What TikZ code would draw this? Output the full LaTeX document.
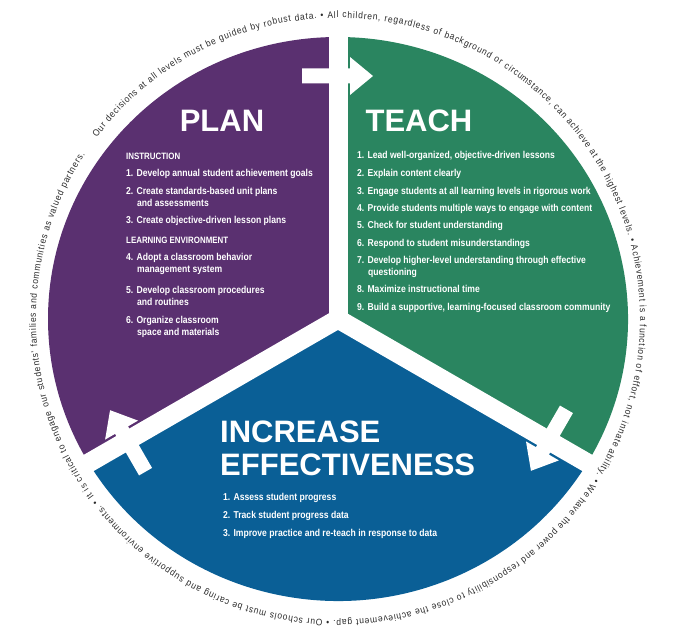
\documentclass[tikz,border=0pt]{standalone}
\usepackage{fontspec}
\setmainfont{Liberation Sans}
\newfontfamily\headf{Liberation Sans}
\newfontfamily\condf{Liberation Sans}[FakeStretch=0.86]
\newfontfamily\ringf{Liberation Sans}[FakeStretch=0.9]
\usetikzlibrary{decorations.text,calc}
\definecolor{planc}{HTML}{5A3070}
\definecolor{teachc}{HTML}{2A8560}
\definecolor{incc}{HTML}{0A5F96}
\definecolor{ringc}{HTML}{2B2B2B}
\tikzset{
  sect/.style={draw=none},
  divider/.style={white, line width=19pt},
  flowarrow/.style={fill=white, draw=none},
  headtxt/.style={text=white, inner sep=0pt, font=\headf\bfseries\fontsize{31}{31}\selectfont},
  li/.style={text=white, inner sep=0pt, anchor=base west, font=\condf\bfseries\fontsize{10}{12}\selectfont},
  subh/.style={text=white, inner sep=0pt, anchor=base west, font=\condf\bfseries\fontsize{9.2}{10}\selectfont},
}
\begin{document}
\begin{tikzpicture}[x=1pt,y=1pt]
\useasboundingbox (0,0) rectangle (675,643);
\coordinate (C) at (338,324);
% sectors
\fill[planc] (C) -- ($(C)+(90:290 and 282)$) arc[start angle=90, end angle=210, x radius=290, y radius=282] -- cycle;
\fill[teachc] (C) -- ($(C)+(-30:290 and 282)$) arc[start angle=-30, end angle=90, x radius=290, y radius=282] -- cycle;
\fill[incc] (C) -- ($(C)+(210:290 and 282)$) arc[start angle=210, end angle=330, x radius=290, y radius=282] -- cycle;
% dividers
\coordinate (d1) at ($(C)+(90:300)$);
\coordinate (d2) at ($(C)+(210:310)$);
\coordinate (d3) at ($(C)+(330:310)$);
\draw[divider] (C) -- (d1);
\draw[divider] (C) -- (d2);
\draw[divider] (C) -- (d3);
% arrows
\foreach \r in {0,-120,120}{
  \fill[flowarrow, rotate around={\r:(C)}] (302,559.5) -- (350,559.5) -- (350,548) -- (373,567) -- (350,586) -- (350,574.5) -- (302,574.5) -- cycle;
}
% ring text
\path[decorate, decoration={text along path, text align=fit to path,
  text={|\ringf\fontsize{9.4}{10}\selectfont\color{ringc}|Our decisions at all levels must be guided by robust data. • All children, regardless of background or circumstance, can achieve at the highest levels. • Achievement is a function of effort, not innate ability. • We have the power and responsibility to close the achievement gap. • Our schools must be caring and supportive environments. • It is critical to engage our students' families and communities as valued partners. •}}]
  ($(C)+(143:302 and 301)$) arc[start angle=143, end angle=-214, x radius=302, y radius=301];
% headings
\node[headtxt] (plan) at (222,522) {PLAN};
\node[headtxt] (teach) at (419,522) {TEACH};
\node[headtxt, anchor=west] (inc) at (220,211) {INCREASE};
\node[headtxt, anchor=west] (eff) at (220,178) {EFFECTIVENESS};
% plan list
\node[subh] (ins) at (126,483) {INSTRUCTION};
\node[li] (p1) at (126,466) {1. Develop annual student achievement goals};
\node[li] (p2) at (126,448) {2. Create standards-based unit plans};
\node[li] (p2b) at (137,436) {and assessments};
\node[li] (p3) at (126,419) {3. Create objective-driven lesson plans};
\node[subh] (le) at (126,399) {LEARNING ENVIRONMENT};
\node[li] (p4) at (126,382) {4. Adopt a classroom behavior};
\node[li] (p4b) at (137,370) {management system};
\node[li] (p5) at (126,349) {5. Develop classroom procedures};
\node[li] (p5b) at (137,337) {and routines};
\node[li] (p6) at (126,319) {6. Organize classroom};
\node[li] (p6b) at (137,307) {space and materials};
% teach list
\node[li] (t1) at (357,484) {1. Lead well-organized, objective-driven lessons};
\node[li] (t2) at (357,466) {2. Explain content clearly};
\node[li] (t3) at (357,448) {3. Engage students at all learning levels in rigorous work};
\node[li] (t4) at (357,431) {4. Provide students multiple ways to engage with content};
\node[li] (t5) at (357,414) {5. Check for student understanding};
\node[li] (t6) at (357,396) {6. Respond to student misunderstandings};
\node[li] (t7) at (357,379) {7. Develop higher-level understanding through effective};
\node[li] (t7b) at (368,367) {questioning};
\node[li] (t8) at (357,350) {8. Maximize instructional time};
\node[li] (t9) at (357,332) {9. Build a supportive, learning-focused classroom community};
% increase list
\node[li] (i1) at (223,142) {1. Assess student progress};
\node[li] (i2) at (223,124) {2. Track student progress data};
\node[li] (i3) at (223,106) {3. Improve practice and re-teach in response to data};
\end{tikzpicture}
\end{document}
